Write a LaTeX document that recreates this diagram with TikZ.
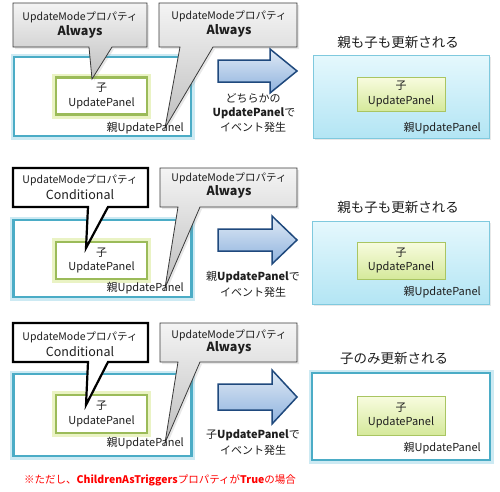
\documentclass[tikz,border=0pt]{standalone}
\usepackage{fontspec}
\setmainfont{Noto Sans CJK JP}
\usetikzlibrary{shadows}
\definecolor{pblue}{HTML}{4BACC6}
\definecolor{pglow}{HTML}{CDEAF3}
\definecolor{cgreen}{HTML}{9BBB59}
\definecolor{cglow}{HTML}{EAF3C4}
\definecolor{cobord}{HTML}{3A3A3A}
\definecolor{cotop}{HTML}{F4F4F4}
\definecolor{cobot}{HTML}{BEBEBE}
\definecolor{arbord}{HTML}{1F497D}
\definecolor{artop}{HTML}{E0EAF5}
\definecolor{arbot}{HTML}{8EB2DE}
\definecolor{rptop}{HTML}{E5F8FD}
\definecolor{rpbot}{HTML}{B3E5F4}
\definecolor{rpbord}{HTML}{7FC9DE}
\definecolor{rctop}{HTML}{F8FCDF}
\definecolor{rcbot}{HTML}{D5E99B}
\definecolor{rcbord}{HTML}{A9C562}
\definecolor{txt}{HTML}{1E1E1E}
\definecolor{redtxt}{HTML}{FF0000}
\begin{document}
\begin{tikzpicture}[x=1pt,y=-1pt,
  softshadow/.style={drop shadow={opacity=0.18, shadow xshift=2pt, shadow yshift=-2pt}},
  lparent/.style={draw=pblue, line width=2.5pt, fill=white, inner sep=0pt,
    preaction={draw=pglow, line width=7pt}},
  lchild/.style={draw=cgreen, line width=2.5pt, fill=white, inner sep=0pt, align=center,
    text=txt, font=\fontsize{11}{14.5}\selectfont,
    preaction={draw=cglow, line width=8pt}},
  rparent/.style={draw=rpbord, line width=0.8pt, top color=rptop, bottom color=rpbot, inner sep=0pt, softshadow},
  rchild/.style={draw=rcbord, line width=0.8pt, top color=rctop, bottom color=rcbot, inner sep=0pt,
    align=center, text=txt, font=\fontsize{11}{14.5}\selectfont},
  lbl/.style={text=txt, font=\fontsize{11}{13}\selectfont, inner sep=0pt},
  cogray/.style={draw=cobord, line width=0.8pt, top color=cotop, bottom color=cobot, line join=miter, softshadow},
  cowhite/.style={draw=black, line width=2.2pt, fill=white, line join=miter},
  cotxt/.style={text=txt, font=\fontsize{10.5}{12}\selectfont, inner sep=0pt},
  cobig/.style={text=txt, font=\fontsize{12.5}{14}\selectfont, inner sep=0pt},
  blockarrow/.style={draw=arbord, line width=1.5pt, top color=artop, bottom color=arbot, line join=miter},
  artxt/.style={text=txt, font=\fontsize{11}{13}\selectfont, inner sep=0pt},
  title/.style={text=txt, font=\fontsize{13.5}{15}\selectfont, inner sep=0pt},
]
\useasboundingbox (0,0) rectangle (500,491);
\fill[white] (0,0) rectangle (500,491);

% ================= Block 1 =================
\node[lparent, minimum width=177pt, minimum height=79pt] (lp1) at (102.5,96.5) {};
\node[lchild, minimum width=91pt, minimum height=37pt] (lc1) at (101.5,96) {子\\UpdatePanel};
\coordinate (tip1a) at (92,79);
\coordinate (tip1b) at (165,128);
\path[cogray] (13,3) -- (147,3) -- (147,47) -- (112,47) -- (tip1a) -- (89,47) -- (13,47) -- cycle;
\node[cotxt] (co1a) at (80,17) {UpdateModeプロパティ};
\node[cobig] (co1b) at (80,32) {\bfseries Always};
\path[cogray] (159,3) -- (297,3) -- (297,47) -- (213,47) -- (tip1b) -- (180,47) -- (159,47) -- cycle;
\node[cotxt] (co1c) at (229,16) {UpdateModeプロパティ};
\node[cobig] (co1d) at (229,31) {\bfseries Always};
\node[lbl, anchor=east] (lp1l) at (184,128) {親UpdatePanel};

\path[blockarrow] (218,60) -- (270,60) -- (270,49) -- (297,71) -- (270,93) -- (270,82) -- (218,82) -- cycle;
\node[artxt] (ar1a) at (253,98) {どちらかの};
\node[artxt] (ar1b) at (254,113) {\bfseries UpdatePanel\mdseries で};
\node[artxt] (ar1c) at (253,127) {イベント発生};

\node[title] (t1) at (398,42) {親も子も更新される};
\node[rparent, minimum width=176pt, minimum height=83pt] (rp1) at (401,96.5) {};
\node[rchild, minimum width=88pt, minimum height=34pt] (rc1) at (401,94) {子\\UpdatePanel};
\node[lbl, anchor=east] (rp1l) at (481,128) {親UpdatePanel};

% ================= Block 2 =================
\node[lparent, minimum width=178pt, minimum height=77pt] (lp2) at (102.5,258.5) {};
\node[lchild, minimum width=91pt, minimum height=37pt] (lc2) at (101.5,260.5) {子\\UpdatePanel};
\coordinate (tip2a) at (86,248);
\coordinate (tip2b) at (165,288);
\path[cowhite] (13,168) -- (148,168) -- (148,207) -- (108,207) -- (tip2a) -- (88,207) -- (13,207) -- cycle;
\node[cotxt] (co2a) at (80,180) {UpdateModeプロパティ};
\node[cobig] (co2b) at (80,195) {Conditional};
\path[cogray] (160,168) -- (297,168) -- (297,207) -- (200,207) -- (tip2b) -- (178,207) -- (160,207) -- cycle;
\node[cotxt] (co2c) at (229,178) {UpdateModeプロパティ};
\node[cobig] (co2d) at (229,192) {\bfseries Always};
\node[lbl, anchor=east] (lp2l) at (184,288) {親UpdatePanel};

\path[blockarrow] (218,229) -- (272,229) -- (272,216) -- (297,240) -- (272,264) -- (272,251) -- (218,251) -- cycle;
\node[artxt] (ar2a) at (253,277) {親\bfseries UpdatePanel\mdseries で};
\node[artxt] (ar2b) at (253,292) {イベント発生};

\node[title] (t2) at (398,207) {親も子も更新される};
\node[rparent, minimum width=177pt, minimum height=83pt] (rp2) at (400.5,262.5) {};
\node[rchild, minimum width=88pt, minimum height=37pt] (rc2) at (401,260.5) {子\\UpdatePanel};
\node[lbl, anchor=east] (rp2l) at (481,292) {親UpdatePanel};

% ================= Block 3 =================
\node[lparent, minimum width=178pt, minimum height=82pt] (lp3) at (102.5,415) {};
\node[lchild, minimum width=91pt, minimum height=38pt] (lc3) at (101.5,414) {子\\UpdatePanel};
\coordinate (tip3a) at (86,405);
\coordinate (tip3b) at (165,443);
\path[cowhite] (13,323) -- (148,323) -- (148,362) -- (108,362) -- (tip3a) -- (88,362) -- (13,362) -- cycle;
\node[cotxt] (co3a) at (80,337) {UpdateModeプロパティ};
\node[cobig] (co3b) at (80,352) {Conditional};
\path[cogray] (160,323) -- (297,323) -- (297,362) -- (200,362) -- (tip3b) -- (178,362) -- (160,362) -- cycle;
\node[cotxt] (co3c) at (229,335) {UpdateModeプロパティ};
\node[cobig] (co3d) at (229,348) {\bfseries Always};
\node[lbl, anchor=east] (lp3l) at (184,443) {親UpdatePanel};

\path[blockarrow] (218,384) -- (272,384) -- (272,370) -- (297,397) -- (272,424) -- (272,410) -- (218,410) -- cycle;
\node[artxt] (ar3a) at (253,435) {子\bfseries UpdatePanel\mdseries で};
\node[artxt] (ar3b) at (253,450) {イベント発生};

\node[title] (t3) at (394,358) {子のみ更新される};
\node[lparent, minimum width=178pt, minimum height=87pt] (rp3) at (401,416.5) {};
\node[rchild, minimum width=88pt, minimum height=39pt] (rc3) at (401,415.5) {子\\UpdatePanel};
\node[lbl, anchor=east] (rp3l) at (481,448) {親UpdatePanel};

\node[text=redtxt, font=\fontsize{10.5}{12}\selectfont, inner sep=0pt] (note) at (160,480)
  {※ただし、\bfseries ChildrenAsTriggers\mdseries プロパティが\bfseries True\mdseries の場合};
\end{tikzpicture}
\end{document}
